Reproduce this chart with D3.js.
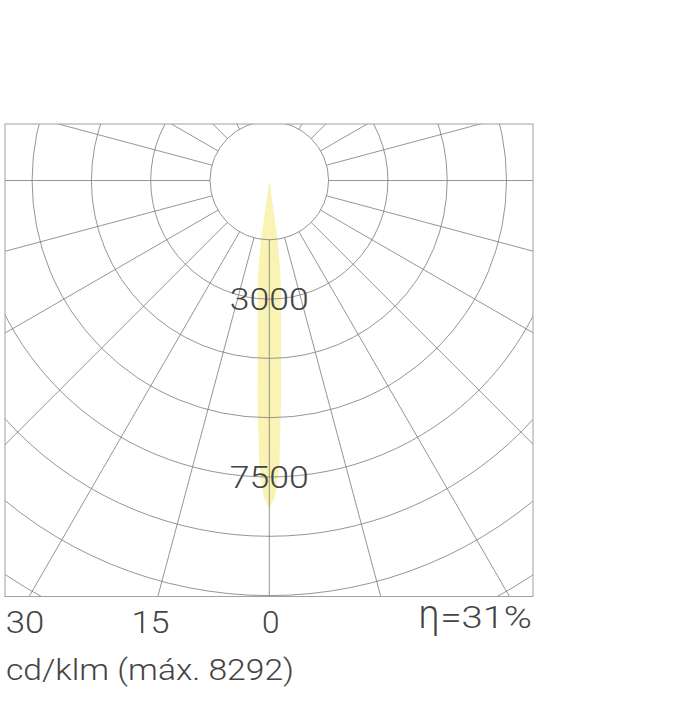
<!DOCTYPE html>
<html>
<head>
<meta charset="utf-8">
<script src="https://cdn.jsdelivr.net/npm/d3@7"></script>
<style>
  body { margin: 0; background: #fff; }
  text { font-family: Roboto, "Liberation Sans", sans-serif; font-weight: 300; fill: #444; }
</style>
</head>
<body>
<div id="chart"></div>
<script>
// polar intensity curve, cd/klm by angle from nadir (symmetric)
var angles    = [0, 1, 2, 3, 4, 5, 6, 7, 8, 9];
var intensity = [8292, 8020, 7260, 5660, 4240, 3400, 2830, 2280, 1480, 0];

var ringValues  = [1500, 3000, 4500, 6000, 7500, 9000, 10500, 12000];
var spokeAngles = [0, 15, 30, 45, 60, 75, 90, 105, 120, 135, 150, 165, 180,
                   195, 210, 225, 240, 255, 270, 285, 300, 315, 330, 345];
var ringLabels  = [3000, 7500];
var angleLabels = ["30", "15", "0"];
var maxValue = 8292;
var eta = "31%";

var svgWidth = 683, svgHeight = 720;
var frame = { left: 5, top: 124, right: 533, bottom: 596.5 };
var cx = 269.3, cy = 180.5;

var svg = d3.select("#chart").append("svg").attr("width", svgWidth).attr("height", svgHeight);

svg.append("clipPath").attr("id", "frameClip")
  .append("rect").attr("x", frame.left).attr("y", frame.top)
  .attr("width", frame.right - frame.left).attr("height", frame.bottom - frame.top);

var r = d3.scaleLinear().domain([0, 1500]).range([0, 59.3]);
var rad = d => d * Math.PI / 180;

var plot = svg.append("g").attr("clip-path", "url(#frameClip)")
  .append("g").attr("transform", `translate(${cx}, ${cy})`);

// light curve: mirror the half curve round the vertical
var pts = [];
angles.forEach((a, i) => pts.push({ a: a, v: intensity[i] }));
var left = angles.slice(1).map((a, i) => ({ a: -a, v: intensity[i + 1] })).reverse();
var curve = left.concat(pts);

var radial = d3.lineRadial()
  .angle(d => Math.PI - rad(d.a))
  .radius(d => r(d.v));

plot.append("path").datum(curve)
  .attr("d", d => radial(d) + "Z")
  .attr("fill", "#f9f4b4").attr("stroke", "none");

// grid
plot.selectAll(".ring").data(ringValues).enter().append("circle").classed("ring", true)
  .attr("r", d => r(d))
  .attr("fill", "none").attr("stroke", "#7a7a7a").attr("stroke-width", 0.8);

var rMin = r(ringValues[0]), rMax = r(20000);
plot.selectAll(".spoke").data(spokeAngles).enter().append("line").classed("spoke", true)
  .attr("x1", d => rMin * Math.sin(rad(d)))
  .attr("y1", d => rMin * Math.cos(rad(d)))
  .attr("x2", d => rMax * Math.sin(rad(d)))
  .attr("y2", d => rMax * Math.cos(rad(d)))
  .attr("stroke", "#7a7a7a").attr("stroke-width", 0.8);

svg.append("rect").attr("x", frame.left).attr("y", frame.top)
  .attr("width", frame.right - frame.left).attr("height", frame.bottom - frame.top)
  .attr("fill", "none").attr("stroke", "#a0a0a0").attr("stroke-width", 1);

// ring value labels
svg.selectAll(".ringLabel").data(ringLabels).enter().append("text").classed("ringLabel", true)
  .attr("x", cx - 39.5).attr("y", d => cy + r(d) + 11)
  .attr("textLength", 79).attr("lengthAdjust", "spacingAndGlyphs")
  .style("font-size", "32px")
  .text(d => d);

// angle labels under the frame
var angleX   = [5.8, 131.5, 262];
var angleLen = [38.5, 38, 17.5];
svg.selectAll(".angleLabel").data(angleLabels).enter().append("text").classed("angleLabel", true)
  .attr("x", (d, i) => angleX[i]).attr("y", 633)
  .attr("textLength", (d, i) => angleLen[i]).attr("lengthAdjust", "spacingAndGlyphs")
  .style("font-size", "31px")
  .text(d => d);

svg.append("text").attr("x", 418.5).attr("y", 627.5)
  .attr("textLength", 21).attr("lengthAdjust", "spacingAndGlyphs")
  .style("font-size", "41px").text("η");
svg.append("text").attr("x", 440.5).attr("y", 627.5)
  .attr("textLength", 91.5).attr("lengthAdjust", "spacingAndGlyphs")
  .style("font-size", "31px").text("=" + eta);

svg.append("text").attr("x", 6).attr("y", 679.7)
  .style("font-size", "30px")
  .attr("textLength", 288).attr("lengthAdjust", "spacingAndGlyphs")
  .text(`cd/klm (máx. ${maxValue})`);
</script>
</body>
</html>
